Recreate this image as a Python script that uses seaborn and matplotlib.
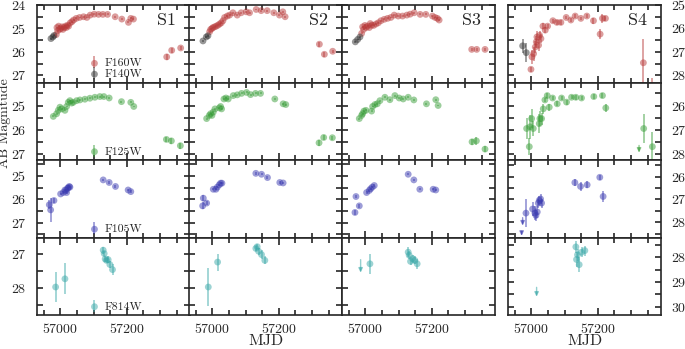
import matplotlib
matplotlib.use('Agg')
import matplotlib.pyplot as plt
import seaborn as sns
from matplotlib.ticker import MultipleLocator
from matplotlib.legend_handler import HandlerTuple

# ---------------- data ----------------
# S1
s1_f140_mjd = [56972, 56978, 56981]
s1_f140_mag = [25.43, 25.36, 25.30]
s1_f160_mjd = [56988, 56990, 56992, 56995, 56998, 57002, 57005, 57008, 57012, 57015,
               57018, 57022, 57025, 57030, 57035, 57040, 57048, 57058, 57070, 57080,
               57090, 57102, 57115, 57128, 57142, 57165, 57185, 57205, 57212, 57220,
               57320, 57335, 57362]
s1_f160_mag = [25.26, 24.96, 25.10, 24.90, 25.04, 25.00, 24.93, 25.04, 24.96, 24.90,
               24.96, 24.86, 24.90, 24.76, 24.71, 24.64, 24.57, 24.53, 24.50, 24.53,
               24.43, 24.39, 24.40, 24.40, 24.40, 24.50, 24.60, 24.74, 24.57, 24.60,
               26.21, 25.93, 25.83]
s1_f160_err = [0.04] * 30 + [0.12, 0.10, 0.07]
s1_f125_mjd = [56979, 56989, 56994, 56999, 57004, 57014, 57019, 57024, 57029, 57034,
               57039, 57049, 57059, 57074, 57089, 57104, 57119, 57131, 57147, 57184,
               57212, 57221, 57319, 57334, 57361]
s1_f125_mag = [25.45, 25.34, 25.20, 25.07, 25.14, 25.20, 25.04, 24.87, 24.80, 24.90,
               24.87, 24.80, 24.77, 24.74, 24.70, 24.66, 24.63, 24.63, 24.69, 24.84,
               24.87, 25.04, 26.40, 26.46, 26.66]
s1_f125_err = [0.04] * 22 + [0.12, 0.12, 0.12]
s1_f105_mjd = [56967, 56971, 56981, 57001, 57009, 57014, 57017, 57019, 57022, 57024,
               57027, 57029, 57129, 57147, 57166, 57204, 57212]
s1_f105_mag = [26.23, 26.45, 26.05, 25.77, 25.71, 25.60, 25.62, 25.71, 25.53, 25.50,
               25.45, 25.48, 25.17, 25.28, 25.45, 25.60, 25.67]
s1_f105_err = [0.2, 0.5, 0.1] + [0.05] * 14
s1_f814_mjd = [56986, 57014, 57129, 57132, 57135, 57139, 57144, 57149, 57157]
s1_f814_mag = [27.98, 27.74, 26.90, 27.00, 27.16, 27.20, 27.18, 27.32, 27.47]
s1_f814_err = [0.45, 0.45, 0.10, 0.08, 0.08, 0.08, 0.10, 0.10, 0.15]

# S2
s2_f140_mjd = [56972, 56982, 56987]
s2_f140_mag = [25.53, 25.36, 25.31]
s2_f160_mjd = [56992, 56995, 56999, 57002, 57007, 57012, 57017, 57022, 57027, 57032,
               57037, 57045, 57052, 57062, 57075, 57087, 57102, 57112, 57132, 57147,
               57165, 57185, 57202, 57212, 57219, 57322, 57337, 57362]
s2_f160_mag = [25.14, 25.04, 25.00, 24.96, 24.93, 24.90, 24.86, 24.81, 24.76, 24.67,
               24.53, 24.47, 24.43, 24.33, 24.43, 24.33, 24.29, 24.33, 24.19, 24.24,
               24.24, 24.33, 24.43, 24.29, 24.50, 25.67, 26.10, 25.97]
s2_f160_err = [0.04] * 25 + [0.10, 0.12, 0.07]
s2_f125_mjd = [56983, 56991, 56995, 56999, 57003, 57008, 57021, 57025, 57028, 57035,
               57041, 57048, 57063, 57075, 57088, 57103, 57115, 57130, 57145, 57188,
               57213, 57221, 57321, 57335, 57361]
s2_f125_mag = [25.54, 25.41, 25.34, 25.41, 25.27, 25.14, 25.10, 25.04, 25.14, 24.73,
               24.69, 24.73, 24.59, 24.56, 24.50, 24.46, 24.55, 24.50, 24.50, 24.73,
               24.93, 24.96, 26.54, 26.32, 26.33]
s2_f125_err = [0.04] * 22 + [0.12, 0.12, 0.08]
s2_f105_mjd = [56971, 56973, 56983, 57003, 57011, 57015, 57021, 57025, 57029, 57131,
               57148, 57166, 57203, 57213]
s2_f105_mag = [26.28, 25.95, 26.16, 25.57, 25.57, 25.48, 25.38, 25.31, 25.31, 24.89,
               24.93, 25.07, 25.28, 25.30]
s2_f105_err = [0.15, 0.12, 0.08] + [0.05] * 11
s2_f814_mjd = [56988, 57016, 57131, 57135, 57139, 57148, 57158]
s2_f814_mag = [27.98, 27.25, 26.85, 26.80, 26.93, 27.03, 27.20]
s2_f814_err = [0.55, 0.25, 0.08, 0.08, 0.10, 0.12, 0.12]

# S3
s3_f140_mjd = [56970, 56977, 56984]
s3_f140_mag = [25.57, 25.47, 25.36]
s3_f160_mjd = [56989, 56992, 56995, 56999, 57002, 57007, 57012, 57015, 57019, 57025,
               57032, 57039, 57047, 57057, 57067, 57077, 57087, 57099, 57112, 57125,
               57135, 57147, 57165, 57182, 57202, 57210, 57217, 57222, 57320, 57335,
               57360]
s3_f160_mag = [25.21, 24.93, 25.04, 24.87, 24.96, 24.90, 24.96, 24.79, 24.86, 24.87,
               24.81, 24.76, 24.67, 24.61, 24.57, 24.53, 24.43, 24.47, 24.47, 24.43,
               24.39, 24.33, 24.40, 24.40, 24.47, 24.53, 24.57, 24.64, 25.89, 25.89,
               25.89]
s3_f160_err = [0.04] * 28 + [0.08, 0.08, 0.08]
s3_f125_mjd = [56982, 56989, 56992, 56996, 57002, 57019, 57022, 57029, 57036, 57044,
               57059, 57074, 57089, 57102, 57114, 57129, 57146, 57184, 57212, 57219,
               57321, 57334, 57360]
s3_f125_mag = [25.54, 25.41, 25.34, 25.23, 25.20, 25.23, 25.04, 24.96, 24.93, 24.80,
               24.66, 24.76, 24.59, 24.69, 24.73, 24.66, 24.77, 24.93, 24.76, 25.00,
               26.50, 26.46, 26.80]
s3_f125_err = [0.04] * 20 + [0.12, 0.15, 0.12]
s3_f105_mjd = [56969, 56972, 56982, 57004, 57012, 57016, 57021, 57027, 57129, 57146,
               57164, 57204, 57212]
s3_f105_mag = [26.56, 25.88, 26.28, 25.71, 25.62, 25.55, 25.48, 25.41, 24.93, 25.17,
               25.57, 25.57, 25.60]
s3_f105_err = [0.1, 0.08, 0.08] + [0.05] * 10
s3_f814_mjd = [57014, 57129, 57132, 57136, 57142, 57149, 57156]
s3_f814_mag = [27.30, 26.96, 27.05, 27.23, 27.15, 27.20, 27.30]
s3_f814_err = [0.30, 0.15, 0.12, 0.12, 0.12, 0.12, 0.15]
s3_f814_lim_mjd = [56986]
s3_f814_lim_mag = [27.18]
s3_f814_lim_len = [0.38]

# S4
s4_f140_mjd = [56974, 56985]
s4_f140_mag = [26.74, 27.03]
s4_f140_err = [0.30, 0.40]
s4_f160_mjd = [56999, 57002, 57007, 57012, 57015, 57017, 57022, 57025, 57029, 57035,
               57042, 57049, 57065, 57077, 57089, 57105, 57119, 57132, 57149, 57167,
               57187, 57207, 57214, 57223, 57337, 57362]
s4_f160_mag = [27.74, 27.21, 27.07, 26.79, 26.57, 26.36, 26.71, 26.29, 26.43, 25.90,
               26.07, 25.90, 25.67, 25.74, 25.74, 25.53, 25.64, 25.47, 25.57, 25.47,
               25.67, 26.24, 25.57, 25.57, 27.46, 28.60]
s4_f160_err = [0.12, 0.30, 0.30, 0.25, 0.25, 0.25, 0.25, 0.20, 0.20, 0.12,
               0.12, 0.10, 0.08, 0.10, 0.10, 0.08, 0.10, 0.10, 0.08, 0.08,
               0.12, 0.20, 0.20, 0.12, 1.00, 0.50]
s4_f125_mjd = [56986, 56994, 56996, 57001, 57006, 57024, 57026, 57031, 57036, 57041,
               57048, 57054, 57064, 57078, 57091, 57106, 57121, 57134, 57151, 57188,
               57214, 57224, 57338, 57364]
s4_f125_mag = [26.95, 27.70, 26.88, 26.54, 26.95, 26.75, 26.54, 26.54, 26.14, 25.77,
               25.59, 26.07, 25.69, 25.93, 25.69, 25.86, 25.66, 25.66, 25.69, 25.63,
               25.59, 26.10, 26.95, 27.70]
s4_f125_err = [0.45, 0.35, 0.50, 0.40, 0.30, 0.40, 0.30, 0.25, 0.20, 0.10,
               0.10, 0.15, 0.10, 0.10, 0.10, 0.10, 0.08, 0.10, 0.10, 0.10,
               0.12, 0.15, 0.60, 0.60]
s4_f125_lim_mjd = [57324]
s4_f125_lim_mag = [27.65]
s4_f125_lim_len = [0.3]
s4_f105_mjd = [56984, 57004, 57011, 57014, 57018, 57021, 57024, 57028, 57031, 57131,
               57148, 57168, 57206, 57216]
s4_f105_mag = [27.60, 27.42, 27.60, 27.70, 27.55, 27.16, 27.04, 26.98, 27.16, 26.26,
               26.43, 26.36, 26.03, 26.87]
s4_f105_err = [0.60, 0.30, 0.30, 0.25, 0.25, 0.20, 0.20, 0.20, 0.20, 0.15,
               0.20, 0.15, 0.12, 0.25]
s4_f105_lim_mjd = [56971, 56974]
s4_f105_lim_mag = [28.40, 27.80]
s4_f105_lim_len = [0.2, 0.35]
s4_f814_mjd = [57134, 57136, 57139, 57144, 57151, 57161]
s4_f814_mag = [27.58, 28.09, 27.90, 28.30, 27.80, 27.73]
s4_f814_err = [0.25, 0.30, 0.25, 0.30, 0.20, 0.20]
s4_f814_lim_mjd = [57016]
s4_f814_lim_mag = [29.22]
s4_f814_lim_len = [0.38]

images = ['S1', 'S2', 'S3', 'S4']

red = '#b83a3a'
gray = '#303030'
green = '#3a9e3a'
blue = '#3a3ab0'
cyan = '#3aa8a8'

# ---------------- style ----------------
sns.set_style('ticks')
plt.rcParams['font.family'] = 'serif'
plt.rcParams['font.serif'] = ['cmr10', 'DejaVu Serif']
plt.rcParams['mathtext.fontset'] = 'cm'
plt.rcParams['axes.formatter.use_mathtext'] = True
plt.rcParams['axes.unicode_minus'] = False


def draw(ax, mjd, mag, err, color):
    eb = ax.errorbar(mjd, mag, yerr=err, fmt='none', ecolor=color, alpha=0.5,
                     elinewidth=1.3, capsize=0)
    sns.scatterplot(x=mjd, y=mag, color=color, alpha=0.5, s=24, edgecolor='none',
                    ax=ax, legend=False)
    return (ax.collections[-1], eb)


def draw_limit(ax, mjd, mag, length, color):
    # upper limits: thin line pointing towards fainter magnitudes
    for x, y, l in zip(mjd, mag, length):
        ax.annotate('', xy=(x, y + l), xytext=(x, y),
                    arrowprops=dict(arrowstyle='-|>,head_width=0.12,head_length=0.25',
                                    color=color, alpha=0.55, lw=1.0,
                                    shrinkA=0, shrinkB=0))


fig = plt.figure(figsize=(6.85, 3.49), dpi=100)
lefts = [37 / 685, 189 / 685, 342 / 685, 508 / 685]
w = 153 / 685
top = 1 - 5 / 349
bot = 1 - 315 / 349
h = (top - bot) / 4
axes = [[fig.add_axes([lefts[c], top - (r + 1) * h, w, h]) for c in range(4)]
        for r in range(4)]

ylims = [[(27.3, 24.0), (28.3, 25.0)],
         [(27.25, 24.05), (28.25, 25.05)],
         [(27.63, 24.32), (28.67, 25.27)],
         [(28.8, 26.53), (30.34, 27.2)]]

# row 1: F160W + F140W
h160 = draw(axes[0][0], s1_f160_mjd, s1_f160_mag, s1_f160_err, red)
h140 = draw(axes[0][0], s1_f140_mjd, s1_f140_mag, [0.04] * 3, gray)
draw(axes[0][1], s2_f160_mjd, s2_f160_mag, s2_f160_err, red)
draw(axes[0][1], s2_f140_mjd, s2_f140_mag, [0.04] * 3, gray)
draw(axes[0][2], s3_f160_mjd, s3_f160_mag, s3_f160_err, red)
draw(axes[0][2], s3_f140_mjd, s3_f140_mag, [0.04] * 3, gray)
draw(axes[0][3], s4_f160_mjd, s4_f160_mag, s4_f160_err, red)
draw(axes[0][3], s4_f140_mjd, s4_f140_mag, s4_f140_err, gray)

# row 2: F125W
h125 = draw(axes[1][0], s1_f125_mjd, s1_f125_mag, s1_f125_err, green)
draw(axes[1][1], s2_f125_mjd, s2_f125_mag, s2_f125_err, green)
draw(axes[1][2], s3_f125_mjd, s3_f125_mag, s3_f125_err, green)
draw(axes[1][3], s4_f125_mjd, s4_f125_mag, s4_f125_err, green)
draw_limit(axes[1][3], s4_f125_lim_mjd, s4_f125_lim_mag, s4_f125_lim_len, green)

# row 3: F105W
h105 = draw(axes[2][0], s1_f105_mjd, s1_f105_mag, s1_f105_err, blue)
draw(axes[2][1], s2_f105_mjd, s2_f105_mag, s2_f105_err, blue)
draw(axes[2][2], s3_f105_mjd, s3_f105_mag, s3_f105_err, blue)
draw(axes[2][3], s4_f105_mjd, s4_f105_mag, s4_f105_err, blue)
draw_limit(axes[2][3], s4_f105_lim_mjd, s4_f105_lim_mag, s4_f105_lim_len, blue)

# row 4: F814W
h814 = draw(axes[3][0], s1_f814_mjd, s1_f814_mag, s1_f814_err, cyan)
draw(axes[3][1], s2_f814_mjd, s2_f814_mag, s2_f814_err, cyan)
draw(axes[3][2], s3_f814_mjd, s3_f814_mag, s3_f814_err, cyan)
draw_limit(axes[3][2], s3_f814_lim_mjd, s3_f814_lim_mag, s3_f814_lim_len, cyan)
draw(axes[3][3], s4_f814_mjd, s4_f814_mag, s4_f814_err, cyan)
draw_limit(axes[3][3], s4_f814_lim_mjd, s4_f814_lim_mag, s4_f814_lim_len, cyan)

for r in range(4):
    for c in range(4):
        ax = axes[r][c]
        ax.set_xlim(56930, 57390)
        ax.set_ylim(*ylims[r][1 if c == 3 else 0])
        ax.xaxis.set_major_locator(MultipleLocator(200))
        ax.xaxis.set_minor_locator(MultipleLocator(50))
        ax.yaxis.set_major_locator(MultipleLocator(1))
        ax.yaxis.set_minor_locator(MultipleLocator(0.5))
        ax.tick_params(which='both', direction='in', top=True, right=True,
                       width=1.2, labelsize=10, pad=7)
        ax.tick_params(axis='x', which='major', length=5)
        ax.tick_params(axis='x', which='minor', length=3.5)
        ax.tick_params(axis='x', which='both', pad=5)
        ax.tick_params(axis='y', which='both', length=4.5)
        ax.tick_params(labelbottom=(r == 3), labelleft=(c == 0), labelright=(c == 3))
        if c == 0:
            ax.tick_params(axis='y', which='both', pad=7.5)
        for sp in ax.spines.values():
            sp.set_linewidth(1.2)
        ax.set_xlabel('')
        ax.set_ylabel('')
    axes[0][r].text(0.91, 0.80, images[r], transform=axes[0][r].transAxes,
                    ha='right', va='center', fontsize=13)

leg_kw = dict(loc='lower left', frameon=False, fontsize=8.5, handlelength=0.5,
              handletextpad=0.6, borderpad=0.1, labelspacing=0.05,
              handler_map={tuple: HandlerTuple(ndivide=1)})
axes[0][0].legend([h160, h140], ['F160W', 'F140W'], bbox_to_anchor=(0.31, -0.05), **leg_kw)
axes[1][0].legend([h125], ['F125W'], bbox_to_anchor=(0.31, -0.05), **leg_kw)
axes[2][0].legend([h105], ['F105W'], bbox_to_anchor=(0.31, -0.05), **leg_kw)
axes[3][0].legend([h814], ['F814W'], bbox_to_anchor=(0.31, -0.05), **leg_kw)

for c in (1, 3):
    axes[3][c].set_xlabel('MJD', fontsize=11.5)
    axes[3][c].xaxis.set_label_coords(0.5, -0.255)
# y label sits level with the second row, as in the original layout
fig.text(0.0075, 1 - 123 / 349, 'AB Magnitude', rotation=90, ha='center', va='center',
         fontsize=10)

fig.savefig('out.png', dpi=100)
